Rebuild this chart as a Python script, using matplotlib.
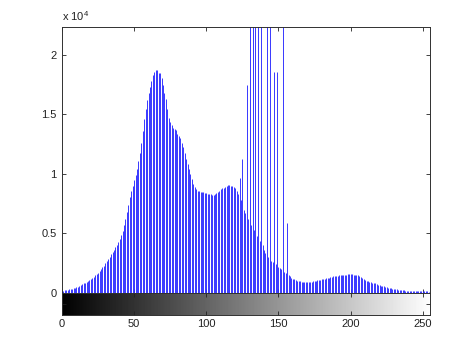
import numpy as np
from matplotlib import pyplot as plt

plt.rcParams['font.family'] = ['Liberation Sans', 'DejaVu Sans']
plt.rcParams['mathtext.default'] = 'regular'

# grey levels (bins) and pixel counts
levels = list(range(256))
counts = [
    200, 210, 230, 250, 270, 300, 320, 350, 380, 420, 480, 530, 590, 650, 720, 800,
    870, 950, 1030, 1110, 1200, 1290, 1380, 1480, 1590, 1720, 1850, 2000, 2150, 2300, 2480, 2650,
    2850, 3050, 3250, 3450, 3650, 3850, 4050, 4250, 4500, 4850, 5250, 5700, 6200, 6800, 7400, 8100,
    8600, 9000, 9500, 9900, 10400, 11100, 11800, 12600, 13600, 14600, 15500, 16200, 16800, 17300, 17800, 18300,
    18600, 18700, 18750, 18500, 18500, 18100, 17500, 16800, 16300, 15500, 14700, 14400, 14100, 13900, 13800, 13700,
    13400, 13200, 13000, 12600, 12300, 11800, 11300, 10800, 10400, 10000, 9600, 9200, 8900, 8700, 8600, 8600,
    8500, 8500, 8500, 8400, 8400, 8300, 8300, 8300, 8200, 8200, 8300, 8400, 8500, 8600, 8700, 8800,
    8800, 8900, 9000, 9100, 9100, 9000, 9000, 8900, 8800, 8600, 8300, 9700, 7800, 11300, 7000, 6700,
    17500, 6200, 60000, 5700, 60000, 5300, 60000, 4800, 60000, 4400, 60000, 4000, 3600, 3400, 60000, 3000,
    60000, 2700, 2600, 18600, 2400, 18600, 2200, 2100, 2000, 60000, 1800, 1700, 5900, 1500, 1400, 1300,
    1200, 1150, 1100, 1050, 1000, 980, 960, 950, 940, 930, 930, 930, 940, 950, 970, 1000,
    1030, 1060, 1090, 1120, 1150, 1180, 1210, 1240, 1270, 1300, 1340, 1380, 1420, 1450, 1460, 1470,
    1480, 1490, 1500, 1510, 1530, 1550, 1570, 1590, 1600, 1580, 1550, 1530, 1520, 1480, 1420, 1330,
    1250, 1180, 1110, 1050, 990, 950, 930, 880, 830, 800, 760, 710, 670, 630, 600, 560,
    520, 490, 450, 420, 400, 370, 340, 320, 300, 280, 260, 240, 230, 220, 210, 200,
    190, 180, 175, 170, 165, 160, 160, 155, 155, 150, 150, 145, 140, 130, 120, 100,
]
xticks = [0, 50, 100, 150, 200, 250]
yticks = [0, 5000, 10000, 15000, 20000]
ytick_labels = ['0', '0.5', '1', '1.5', '2']

fig = plt.figure(figsize=(4.74, 3.54), dpi=100)

# histogram (stem lines, no markers)
ax = fig.add_axes([0.1308, 0.1723, 0.7764, 0.7514])
ax.vlines(levels, 0, counts, color='#2a2aff', linewidth=0.65)
ax.set_xlim(0, 255)
ax.set_ylim(0, 22350)
ax.set_xticks(xticks)
ax.set_xticklabels([])
ax.set_yticks(yticks)
ax.set_yticklabels(ytick_labels)
ax.tick_params(direction='in', length=2.7, width=0.6, top=True, right=True,
               labelsize=8, colors='#222222', pad=4)
for s in ax.spines.values():
    s.set_linewidth(0.7)
    s.set_color('#303030')
ax.text(0, 1.015, r'x 10$^{4}$', transform=ax.transAxes, ha='left', va='bottom',
        fontsize=8, color='#222222')

# grey-level colour bar under the histogram
cax = fig.add_axes([0.1308, 0.1102, 0.7764, 0.0621])
cax.imshow(np.array(levels).reshape(1, -1), cmap='gray', aspect='auto',
           extent=[-0.5, 255.5, 0, 1], interpolation='nearest')
cax.set_xlim(0, 255)
cax.set_ylim(0, 1)
cax.set_xticks(xticks)
cax.set_yticks([0.5])
cax.set_yticklabels([])
cax.tick_params(direction='in', length=2.7, width=0.6, top=True, right=True,
                labelsize=8, colors='#222222', pad=3)
for s in cax.spines.values():
    s.set_linewidth(0.7)
    s.set_color('#303030')

plt.savefig('out.png', dpi=100)
